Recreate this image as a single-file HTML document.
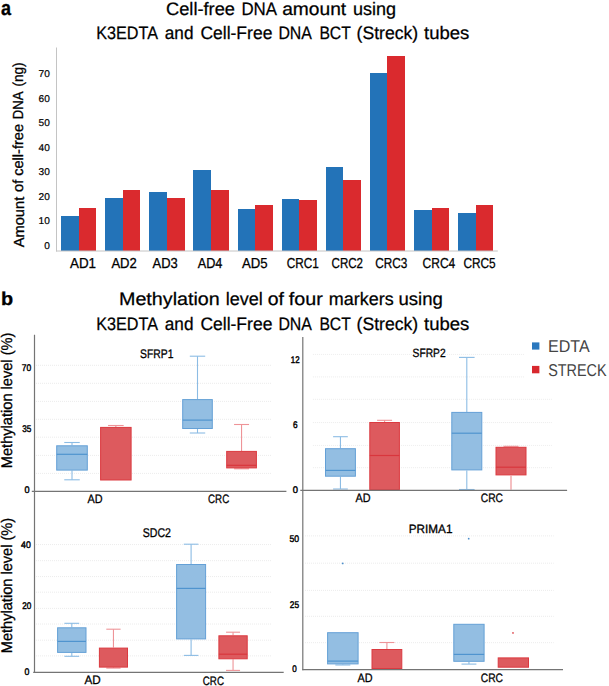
<!DOCTYPE html>
<html><head><meta charset="utf-8"><style>
html,body{margin:0;padding:0;background:#fff;width:609px;height:686px;overflow:hidden}
svg{display:block}
text{font-family:"Liberation Sans", sans-serif;text-rendering:geometricPrecision}
</style></head><body>
<svg width="609" height="686" viewBox="0 0 609 686">
<rect width="609" height="686" fill="#fff"/>
<rect x="61.10" y="215.90" width="17.60" height="35.10" fill="#2373B8" shape-rendering="crispEdges"/>
<rect x="78.70" y="207.80" width="17.60" height="43.20" fill="#DA2A2E" shape-rendering="crispEdges"/>
<rect x="105.20" y="197.80" width="17.60" height="53.20" fill="#2373B8" shape-rendering="crispEdges"/>
<rect x="122.80" y="189.70" width="17.60" height="61.30" fill="#DA2A2E" shape-rendering="crispEdges"/>
<rect x="149.30" y="192.10" width="17.60" height="58.90" fill="#2373B8" shape-rendering="crispEdges"/>
<rect x="166.90" y="198.00" width="17.60" height="53.00" fill="#DA2A2E" shape-rendering="crispEdges"/>
<rect x="193.40" y="169.70" width="17.60" height="81.30" fill="#2373B8" shape-rendering="crispEdges"/>
<rect x="211.00" y="190.10" width="17.60" height="60.90" fill="#DA2A2E" shape-rendering="crispEdges"/>
<rect x="237.50" y="208.60" width="17.60" height="42.40" fill="#2373B8" shape-rendering="crispEdges"/>
<rect x="255.10" y="204.70" width="17.60" height="46.30" fill="#DA2A2E" shape-rendering="crispEdges"/>
<rect x="281.60" y="199.30" width="17.60" height="51.70" fill="#2373B8" shape-rendering="crispEdges"/>
<rect x="299.20" y="200.00" width="17.60" height="51.00" fill="#DA2A2E" shape-rendering="crispEdges"/>
<rect x="325.70" y="166.50" width="17.60" height="84.50" fill="#2373B8" shape-rendering="crispEdges"/>
<rect x="343.30" y="180.30" width="17.60" height="70.70" fill="#DA2A2E" shape-rendering="crispEdges"/>
<rect x="369.80" y="72.80" width="17.60" height="178.20" fill="#2373B8" shape-rendering="crispEdges"/>
<rect x="387.40" y="55.80" width="17.60" height="195.20" fill="#DA2A2E" shape-rendering="crispEdges"/>
<rect x="413.90" y="209.90" width="17.60" height="41.10" fill="#2373B8" shape-rendering="crispEdges"/>
<rect x="431.50" y="207.60" width="17.60" height="43.40" fill="#DA2A2E" shape-rendering="crispEdges"/>
<rect x="458.00" y="212.80" width="17.60" height="38.20" fill="#2373B8" shape-rendering="crispEdges"/>
<rect x="475.60" y="204.70" width="17.60" height="46.30" fill="#DA2A2E" shape-rendering="crispEdges"/>
<line x1="56.50" y1="47.50" x2="56.50" y2="251.50" stroke="#c4c4c4" stroke-width="1" />
<line x1="56.00" y1="251.00" x2="497.80" y2="251.00" stroke="#c4c4c4" stroke-width="1" />
<line x1="36.00" y1="365.30" x2="272.00" y2="365.30" stroke="#ececec" stroke-width="1" stroke-dasharray="1 1"/>
<line x1="36.00" y1="383.30" x2="272.00" y2="383.30" stroke="#ececec" stroke-width="1" stroke-dasharray="1 1"/>
<line x1="36.00" y1="401.40" x2="272.00" y2="401.40" stroke="#ececec" stroke-width="1" stroke-dasharray="1 1"/>
<line x1="36.00" y1="419.30" x2="272.00" y2="419.30" stroke="#ececec" stroke-width="1" stroke-dasharray="1 1"/>
<line x1="36.00" y1="437.20" x2="272.00" y2="437.20" stroke="#ececec" stroke-width="1" stroke-dasharray="1 1"/>
<line x1="36.00" y1="455.40" x2="272.00" y2="455.40" stroke="#ececec" stroke-width="1" stroke-dasharray="1 1"/>
<line x1="36.00" y1="473.40" x2="272.00" y2="473.40" stroke="#ececec" stroke-width="1" stroke-dasharray="1 1"/>
<line x1="312.90" y1="354.40" x2="524.00" y2="354.40" stroke="#ececec" stroke-width="1" stroke-dasharray="1 1"/>
<line x1="312.90" y1="376.90" x2="524.00" y2="376.90" stroke="#ececec" stroke-width="1" stroke-dasharray="1 1"/>
<line x1="312.90" y1="399.30" x2="551.80" y2="399.30" stroke="#ececec" stroke-width="1" stroke-dasharray="1 1"/>
<line x1="312.90" y1="422.60" x2="551.80" y2="422.60" stroke="#ececec" stroke-width="1" stroke-dasharray="1 1"/>
<line x1="312.90" y1="445.40" x2="551.80" y2="445.40" stroke="#ececec" stroke-width="1" stroke-dasharray="1 1"/>
<line x1="312.90" y1="467.70" x2="551.80" y2="467.70" stroke="#ececec" stroke-width="1" stroke-dasharray="1 1"/>
<line x1="36.00" y1="544.60" x2="271.00" y2="544.60" stroke="#ececec" stroke-width="1" stroke-dasharray="1 1"/>
<line x1="36.00" y1="560.70" x2="271.00" y2="560.70" stroke="#ececec" stroke-width="1" stroke-dasharray="1 1"/>
<line x1="36.00" y1="576.60" x2="271.00" y2="576.60" stroke="#ececec" stroke-width="1" stroke-dasharray="1 1"/>
<line x1="36.00" y1="592.20" x2="271.00" y2="592.20" stroke="#ececec" stroke-width="1" stroke-dasharray="1 1"/>
<line x1="36.00" y1="608.40" x2="271.00" y2="608.40" stroke="#ececec" stroke-width="1" stroke-dasharray="1 1"/>
<line x1="36.00" y1="624.00" x2="271.00" y2="624.00" stroke="#ececec" stroke-width="1" stroke-dasharray="1 1"/>
<line x1="36.00" y1="640.20" x2="271.00" y2="640.20" stroke="#ececec" stroke-width="1" stroke-dasharray="1 1"/>
<line x1="36.00" y1="655.90" x2="271.00" y2="655.90" stroke="#ececec" stroke-width="1" stroke-dasharray="1 1"/>
<line x1="305.00" y1="535.90" x2="553.70" y2="535.90" stroke="#ececec" stroke-width="1" stroke-dasharray="1 1"/>
<line x1="305.00" y1="563.20" x2="553.70" y2="563.20" stroke="#ececec" stroke-width="1" stroke-dasharray="1 1"/>
<line x1="305.00" y1="590.40" x2="553.70" y2="590.40" stroke="#ececec" stroke-width="1" stroke-dasharray="1 1"/>
<line x1="305.00" y1="616.30" x2="553.70" y2="616.30" stroke="#ececec" stroke-width="1" stroke-dasharray="1 1"/>
<line x1="305.00" y1="642.70" x2="553.70" y2="642.70" stroke="#ececec" stroke-width="1" stroke-dasharray="1 1"/>
<line x1="72.00" y1="442.50" x2="72.00" y2="445.30" stroke="#8CBCE4" stroke-width="1.1" />
<line x1="64.25" y1="442.50" x2="79.75" y2="442.50" stroke="#8CBCE4" stroke-width="1.1" />
<line x1="72.00" y1="470.60" x2="72.00" y2="479.80" stroke="#8CBCE4" stroke-width="1.1" />
<line x1="64.25" y1="479.80" x2="79.75" y2="479.80" stroke="#8CBCE4" stroke-width="1.1" />
<rect x="56.70" y="445.80" width="30.60" height="24.30" fill="#93BEE2" stroke="#64A0D6" stroke-width="1"/>
<line x1="56.70" y1="454.30" x2="87.30" y2="454.30" stroke="#4F94CF" stroke-width="1.2" />
<line x1="115.85" y1="425.50" x2="115.85" y2="426.90" stroke="#EE9498" stroke-width="1.1" />
<line x1="108.05" y1="425.50" x2="123.65" y2="425.50" stroke="#EE9498" stroke-width="1.1" />
<rect x="100.60" y="427.40" width="30.50" height="52.60" fill="#DD5A5E" stroke="#DB3A40" stroke-width="1"/>
<line x1="197.50" y1="356.20" x2="197.50" y2="399.10" stroke="#8CBCE4" stroke-width="1.1" />
<line x1="189.80" y1="356.20" x2="205.20" y2="356.20" stroke="#8CBCE4" stroke-width="1.1" />
<line x1="197.50" y1="429.00" x2="197.50" y2="433.00" stroke="#8CBCE4" stroke-width="1.1" />
<line x1="189.80" y1="433.00" x2="205.20" y2="433.00" stroke="#8CBCE4" stroke-width="1.1" />
<rect x="182.70" y="399.60" width="29.60" height="28.90" fill="#93BEE2" stroke="#64A0D6" stroke-width="1"/>
<line x1="182.70" y1="420.10" x2="212.30" y2="420.10" stroke="#4F94CF" stroke-width="1.2" />
<line x1="241.55" y1="424.50" x2="241.55" y2="450.90" stroke="#EE9498" stroke-width="1.1" />
<line x1="234.05" y1="424.50" x2="249.05" y2="424.50" stroke="#EE9498" stroke-width="1.1" />
<line x1="241.55" y1="468.40" x2="241.55" y2="468.80" stroke="#EE9498" stroke-width="1.1" />
<line x1="234.05" y1="468.80" x2="249.05" y2="468.80" stroke="#EE9498" stroke-width="1.1" />
<rect x="226.70" y="451.40" width="29.70" height="16.50" fill="#DD5A5E" stroke="#DB3A40" stroke-width="1"/>
<line x1="226.70" y1="465.30" x2="256.40" y2="465.30" stroke="#D9363D" stroke-width="1.2" />
<line x1="340.45" y1="436.70" x2="340.45" y2="448.20" stroke="#8CBCE4" stroke-width="1.1" />
<line x1="333.10" y1="436.70" x2="347.80" y2="436.70" stroke="#8CBCE4" stroke-width="1.1" />
<line x1="340.45" y1="476.70" x2="340.45" y2="489.00" stroke="#8CBCE4" stroke-width="1.1" />
<line x1="333.10" y1="489.00" x2="347.80" y2="489.00" stroke="#8CBCE4" stroke-width="1.1" />
<rect x="325.50" y="448.70" width="29.90" height="27.50" fill="#93BEE2" stroke="#64A0D6" stroke-width="1"/>
<line x1="325.50" y1="470.40" x2="355.40" y2="470.40" stroke="#4F94CF" stroke-width="1.2" />
<line x1="384.60" y1="420.30" x2="384.60" y2="422.00" stroke="#EE9498" stroke-width="1.1" />
<line x1="377.10" y1="420.30" x2="392.10" y2="420.30" stroke="#EE9498" stroke-width="1.1" />
<rect x="369.80" y="422.50" width="29.60" height="67.10" fill="#DD5A5E" stroke="#DB3A40" stroke-width="1"/>
<line x1="369.80" y1="455.50" x2="399.40" y2="455.50" stroke="#D9363D" stroke-width="1.2" />
<line x1="466.80" y1="357.40" x2="466.80" y2="411.90" stroke="#8CBCE4" stroke-width="1.1" />
<line x1="459.00" y1="357.40" x2="474.60" y2="357.40" stroke="#8CBCE4" stroke-width="1.1" />
<line x1="466.80" y1="470.40" x2="466.80" y2="489.50" stroke="#8CBCE4" stroke-width="1.1" />
<line x1="459.00" y1="489.50" x2="474.60" y2="489.50" stroke="#8CBCE4" stroke-width="1.1" />
<rect x="451.80" y="412.40" width="30.00" height="57.50" fill="#93BEE2" stroke="#64A0D6" stroke-width="1"/>
<line x1="451.80" y1="433.20" x2="481.80" y2="433.20" stroke="#4F94CF" stroke-width="1.2" />
<line x1="511.00" y1="446.30" x2="511.00" y2="446.80" stroke="#EE9498" stroke-width="1.1" />
<line x1="503.50" y1="446.30" x2="518.50" y2="446.30" stroke="#EE9498" stroke-width="1.1" />
<rect x="496.00" y="447.30" width="30.00" height="27.60" fill="#DD5A5E" stroke="#DB3A40" stroke-width="1"/>
<line x1="496.00" y1="467.20" x2="526.00" y2="467.20" stroke="#D9363D" stroke-width="1.2" />
<line x1="511.00" y1="475.40" x2="511.00" y2="489.80" stroke="#EE9498" stroke-width="1.2" />
<line x1="71.80" y1="623.30" x2="71.80" y2="627.30" stroke="#8CBCE4" stroke-width="1.1" />
<line x1="64.40" y1="623.30" x2="79.20" y2="623.30" stroke="#8CBCE4" stroke-width="1.1" />
<line x1="71.80" y1="652.90" x2="71.80" y2="656.30" stroke="#8CBCE4" stroke-width="1.1" />
<line x1="64.40" y1="656.30" x2="79.20" y2="656.30" stroke="#8CBCE4" stroke-width="1.1" />
<rect x="57.60" y="627.80" width="28.40" height="24.60" fill="#93BEE2" stroke="#64A0D6" stroke-width="1"/>
<line x1="57.60" y1="641.40" x2="86.00" y2="641.40" stroke="#4F94CF" stroke-width="1.2" />
<line x1="113.45" y1="629.20" x2="113.45" y2="647.60" stroke="#EE9498" stroke-width="1.1" />
<line x1="106.30" y1="629.20" x2="120.60" y2="629.20" stroke="#EE9498" stroke-width="1.1" />
<line x1="113.45" y1="667.60" x2="113.45" y2="668.10" stroke="#EE9498" stroke-width="1.1" />
<line x1="106.30" y1="668.10" x2="120.60" y2="668.10" stroke="#EE9498" stroke-width="1.1" />
<rect x="99.40" y="648.10" width="28.10" height="19.00" fill="#DD5A5E" stroke="#DB3A40" stroke-width="1"/>
<line x1="191.10" y1="544.20" x2="191.10" y2="564.00" stroke="#8CBCE4" stroke-width="1.1" />
<line x1="183.80" y1="544.20" x2="198.40" y2="544.20" stroke="#8CBCE4" stroke-width="1.1" />
<line x1="191.10" y1="639.40" x2="191.10" y2="655.40" stroke="#8CBCE4" stroke-width="1.1" />
<line x1="183.80" y1="655.40" x2="198.40" y2="655.40" stroke="#8CBCE4" stroke-width="1.1" />
<rect x="176.60" y="564.50" width="29.00" height="74.40" fill="#93BEE2" stroke="#64A0D6" stroke-width="1"/>
<line x1="176.60" y1="588.40" x2="205.60" y2="588.40" stroke="#4F94CF" stroke-width="1.2" />
<line x1="233.05" y1="632.20" x2="233.05" y2="635.30" stroke="#EE9498" stroke-width="1.1" />
<line x1="226.05" y1="632.20" x2="240.05" y2="632.20" stroke="#EE9498" stroke-width="1.1" />
<line x1="233.05" y1="659.30" x2="233.05" y2="670.40" stroke="#EE9498" stroke-width="1.1" />
<line x1="226.05" y1="670.40" x2="240.05" y2="670.40" stroke="#EE9498" stroke-width="1.1" />
<rect x="218.90" y="635.80" width="28.30" height="23.00" fill="#DD5A5E" stroke="#DB3A40" stroke-width="1"/>
<line x1="218.90" y1="654.20" x2="247.20" y2="654.20" stroke="#D9363D" stroke-width="1.2" />
<line x1="342.85" y1="664.40" x2="342.85" y2="665.00" stroke="#8CBCE4" stroke-width="1.1" />
<line x1="335.35" y1="665.00" x2="350.35" y2="665.00" stroke="#8CBCE4" stroke-width="1.1" />
<rect x="327.60" y="632.70" width="30.50" height="31.20" fill="#93BEE2" stroke="#64A0D6" stroke-width="1"/>
<line x1="327.60" y1="661.10" x2="358.10" y2="661.10" stroke="#4F94CF" stroke-width="1.2" />
<line x1="386.90" y1="642.50" x2="386.90" y2="649.00" stroke="#EE9498" stroke-width="1.1" />
<line x1="379.40" y1="642.50" x2="394.40" y2="642.50" stroke="#EE9498" stroke-width="1.1" />
<rect x="372.00" y="649.50" width="29.80" height="19.00" fill="#DD5A5E" stroke="#DB3A40" stroke-width="1"/>
<line x1="468.95" y1="661.80" x2="468.95" y2="664.10" stroke="#8CBCE4" stroke-width="1.1" />
<line x1="461.50" y1="664.10" x2="476.40" y2="664.10" stroke="#8CBCE4" stroke-width="1.1" />
<rect x="453.80" y="624.30" width="30.30" height="37.00" fill="#93BEE2" stroke="#64A0D6" stroke-width="1"/>
<line x1="453.80" y1="654.40" x2="484.10" y2="654.40" stroke="#4F94CF" stroke-width="1.2" />
<rect x="498.20" y="657.90" width="30.30" height="9.30" fill="#DD5A5E" stroke="#DB3A40" stroke-width="1"/>
<circle cx="342.7" cy="563.4" r="0.9" fill="#4d8fcc"/>
<circle cx="468.7" cy="538.7" r="0.9" fill="#4d8fcc"/>
<circle cx="513.0" cy="632.9" r="0.9" fill="#e05055"/>
<line x1="34.50" y1="334.70" x2="34.50" y2="672.80" stroke="#747474" stroke-width="1.2" />
<line x1="302.80" y1="336.90" x2="302.80" y2="670.20" stroke="#747474" stroke-width="1.2" />
<line x1="31.80" y1="491.30" x2="286.40" y2="491.30" stroke="#747474" stroke-width="1.3" />
<line x1="300.30" y1="490.40" x2="567.10" y2="490.40" stroke="#747474" stroke-width="1.3" />
<line x1="33.20" y1="672.30" x2="283.70" y2="672.30" stroke="#747474" stroke-width="1.3" />
<line x1="302.30" y1="669.70" x2="563.00" y2="669.70" stroke="#747474" stroke-width="1.3" />
<rect x="532.00" y="342.40" width="7.40" height="7.20" fill="#2A78BE" />
<rect x="532.00" y="365.90" width="7.40" height="7.40" fill="#D8282E" />
<g>
<text x="0.96" y="14.60" font-size="20.50" font-weight="bold" textLength="10.03" lengthAdjust="spacingAndGlyphs" stroke="#000" stroke-width="0.3">a</text>
<text x="0.94" y="305.20" font-size="18.50" font-weight="bold" textLength="12.14" lengthAdjust="spacingAndGlyphs" stroke="#000" stroke-width="0.3">b</text>
<text x="165.98" y="14.70" font-size="18.00" textLength="69.04" lengthAdjust="spacingAndGlyphs" stroke="#000" stroke-width="0.25">Cell-free</text>
<text x="241.38" y="14.70" font-size="18.00" textLength="35.62" lengthAdjust="spacingAndGlyphs" stroke="#000" stroke-width="0.25">DNA</text>
<text x="282.19" y="14.70" font-size="18.00" textLength="64.01" lengthAdjust="spacingAndGlyphs" stroke="#000" stroke-width="0.25">amount</text>
<text x="352.98" y="14.70" font-size="18.00" textLength="43.06" lengthAdjust="spacingAndGlyphs" stroke="#000" stroke-width="0.25">using</text>
<text x="96.19" y="38.70" font-size="18.00" textLength="61.80" lengthAdjust="spacingAndGlyphs" stroke="#000" stroke-width="0.25">K3EDTA</text>
<text x="164.80" y="38.70" font-size="18.00" textLength="28.65" lengthAdjust="spacingAndGlyphs" stroke="#000" stroke-width="0.25">and</text>
<text x="200.39" y="38.70" font-size="18.00" textLength="72.01" lengthAdjust="spacingAndGlyphs" stroke="#000" stroke-width="0.25">Cell-Free</text>
<text x="278.39" y="38.70" font-size="18.00" textLength="33.61" lengthAdjust="spacingAndGlyphs" stroke="#000" stroke-width="0.25">DNA</text>
<text x="319.39" y="38.70" font-size="18.00" textLength="31.43" lengthAdjust="spacingAndGlyphs" stroke="#000" stroke-width="0.25">BCT</text>
<text x="356.58" y="38.70" font-size="18.00" textLength="61.63" lengthAdjust="spacingAndGlyphs" stroke="#000" stroke-width="0.25">(Streck)</text>
<text x="424.00" y="38.70" font-size="18.00" textLength="45.40" lengthAdjust="spacingAndGlyphs" stroke="#000" stroke-width="0.25">tubes</text>
<text x="118.96" y="305.00" font-size="18.00" textLength="100.87" lengthAdjust="spacingAndGlyphs" stroke="#000" stroke-width="0.25">Methylation</text>
<text x="225.77" y="305.00" font-size="18.00" textLength="37.09" lengthAdjust="spacingAndGlyphs" stroke="#000" stroke-width="0.25">level</text>
<text x="267.80" y="305.00" font-size="18.00" textLength="16.22" lengthAdjust="spacingAndGlyphs" stroke="#000" stroke-width="0.25">of</text>
<text x="288.78" y="305.00" font-size="18.00" textLength="34.03" lengthAdjust="spacingAndGlyphs" stroke="#000" stroke-width="0.25">four</text>
<text x="328.77" y="305.00" font-size="18.00" textLength="64.85" lengthAdjust="spacingAndGlyphs" stroke="#000" stroke-width="0.25">markers</text>
<text x="398.53" y="305.00" font-size="18.00" textLength="44.32" lengthAdjust="spacingAndGlyphs" stroke="#000" stroke-width="0.25">using</text>
<text x="96.19" y="329.50" font-size="18.00" textLength="61.80" lengthAdjust="spacingAndGlyphs" stroke="#000" stroke-width="0.25">K3EDTA</text>
<text x="164.80" y="329.50" font-size="18.00" textLength="28.65" lengthAdjust="spacingAndGlyphs" stroke="#000" stroke-width="0.25">and</text>
<text x="200.39" y="329.50" font-size="18.00" textLength="72.01" lengthAdjust="spacingAndGlyphs" stroke="#000" stroke-width="0.25">Cell-Free</text>
<text x="278.39" y="329.50" font-size="18.00" textLength="33.61" lengthAdjust="spacingAndGlyphs" stroke="#000" stroke-width="0.25">DNA</text>
<text x="319.39" y="329.50" font-size="18.00" textLength="31.43" lengthAdjust="spacingAndGlyphs" stroke="#000" stroke-width="0.25">BCT</text>
<text x="356.58" y="329.50" font-size="18.00" textLength="61.63" lengthAdjust="spacingAndGlyphs" stroke="#000" stroke-width="0.25">(Streck)</text>
<text x="424.00" y="329.50" font-size="18.00" textLength="45.40" lengthAdjust="spacingAndGlyphs" stroke="#000" stroke-width="0.25">tubes</text>
<text transform="translate(23.70,247.20) rotate(-90)" font-size="14.60" textLength="50.41" lengthAdjust="spacingAndGlyphs" stroke="#000" stroke-width="0.3">Amount</text>
<text transform="translate(23.40,192.00) rotate(-90)" font-size="14.60" textLength="12.22" lengthAdjust="spacingAndGlyphs" stroke="#000" stroke-width="0.3">of</text>
<text transform="translate(23.11,175.81) rotate(-90)" font-size="14.60" textLength="51.82" lengthAdjust="spacingAndGlyphs" stroke="#000" stroke-width="0.3">cell-free</text>
<text transform="translate(22.75,119.19) rotate(-90)" font-size="14.60" textLength="27.61" lengthAdjust="spacingAndGlyphs" stroke="#000" stroke-width="0.3">DNA</text>
<text transform="translate(22.50,86.40) rotate(-90)" font-size="14.60" textLength="24.02" lengthAdjust="spacingAndGlyphs" stroke="#000" stroke-width="0.3">(ng)</text>
<text x="44.34" y="248.70" font-size="9.90" textLength="5.64" lengthAdjust="spacingAndGlyphs" stroke="#000" stroke-width="0.2">0</text>
<text x="38.59" y="224.20" font-size="9.90" textLength="11.24" lengthAdjust="spacingAndGlyphs" stroke="#000" stroke-width="0.2">10</text>
<text x="38.59" y="199.70" font-size="9.90" textLength="11.24" lengthAdjust="spacingAndGlyphs" stroke="#000" stroke-width="0.2">20</text>
<text x="38.59" y="175.20" font-size="9.90" textLength="11.24" lengthAdjust="spacingAndGlyphs" stroke="#000" stroke-width="0.2">30</text>
<text x="38.59" y="150.70" font-size="9.90" textLength="11.24" lengthAdjust="spacingAndGlyphs" stroke="#000" stroke-width="0.2">40</text>
<text x="38.59" y="126.20" font-size="9.90" textLength="11.24" lengthAdjust="spacingAndGlyphs" stroke="#000" stroke-width="0.2">50</text>
<text x="38.59" y="101.70" font-size="9.90" textLength="11.24" lengthAdjust="spacingAndGlyphs" stroke="#000" stroke-width="0.2">60</text>
<text x="38.59" y="77.20" font-size="9.90" textLength="11.24" lengthAdjust="spacingAndGlyphs" stroke="#000" stroke-width="0.2">70</text>
<text x="69.99" y="268.30" font-size="14.50" textLength="26.01" lengthAdjust="spacingAndGlyphs" stroke="#000" stroke-width="0.3">AD1</text>
<text x="111.39" y="268.30" font-size="14.50" textLength="25.41" lengthAdjust="spacingAndGlyphs" stroke="#000" stroke-width="0.3">AD2</text>
<text x="152.60" y="268.30" font-size="14.50" textLength="25.21" lengthAdjust="spacingAndGlyphs" stroke="#000" stroke-width="0.3">AD3</text>
<text x="197.77" y="268.30" font-size="14.50" textLength="24.65" lengthAdjust="spacingAndGlyphs" stroke="#000" stroke-width="0.3">AD4</text>
<text x="242.00" y="268.30" font-size="14.50" textLength="25.61" lengthAdjust="spacingAndGlyphs" stroke="#000" stroke-width="0.3">AD5</text>
<text x="286.78" y="268.30" font-size="14.50" textLength="32.04" lengthAdjust="spacingAndGlyphs" stroke="#000" stroke-width="0.3">CRC1</text>
<text x="331.59" y="268.30" font-size="14.50" textLength="31.41" lengthAdjust="spacingAndGlyphs" stroke="#000" stroke-width="0.3">CRC2</text>
<text x="375.19" y="268.30" font-size="14.50" textLength="32.03" lengthAdjust="spacingAndGlyphs" stroke="#000" stroke-width="0.3">CRC3</text>
<text x="422.60" y="268.30" font-size="14.50" textLength="32.61" lengthAdjust="spacingAndGlyphs" stroke="#000" stroke-width="0.3">CRC4</text>
<text x="463.38" y="268.30" font-size="14.50" textLength="32.25" lengthAdjust="spacingAndGlyphs" stroke="#000" stroke-width="0.3">CRC5</text>
<text x="547.97" y="352.00" font-size="17.20" fill="#444" textLength="41.65" lengthAdjust="spacingAndGlyphs">EDTA</text>
<text x="548.19" y="375.80" font-size="17.20" fill="#444" textLength="58.41" lengthAdjust="spacingAndGlyphs">STRECK</text>
<text x="140.00" y="357.50" font-size="12.40" textLength="33.40" lengthAdjust="spacingAndGlyphs" stroke="#000" stroke-width="0.3">SFRP1</text>
<text x="412.59" y="357.40" font-size="12.00" textLength="33.01" lengthAdjust="spacingAndGlyphs" stroke="#000" stroke-width="0.3">SFRP2</text>
<text x="142.79" y="536.90" font-size="12.60" textLength="28.21" lengthAdjust="spacingAndGlyphs" stroke="#000" stroke-width="0.3">SDC2</text>
<text x="408.79" y="533.10" font-size="12.00" textLength="43.62" lengthAdjust="spacingAndGlyphs" stroke="#000" stroke-width="0.3">PRIMA1</text>
<text x="87.58" y="503.30" font-size="12.20" textLength="15.03" lengthAdjust="spacingAndGlyphs" stroke="#000" stroke-width="0.3">AD</text>
<text x="208.00" y="502.80" font-size="12.20" textLength="21.22" lengthAdjust="spacingAndGlyphs" stroke="#000" stroke-width="0.3">CRC</text>
<text x="355.58" y="501.70" font-size="12.20" textLength="15.03" lengthAdjust="spacingAndGlyphs" stroke="#000" stroke-width="0.3">AD</text>
<text x="480.75" y="501.90" font-size="12.20" textLength="22.28" lengthAdjust="spacingAndGlyphs" stroke="#000" stroke-width="0.3">CRC</text>
<text x="84.59" y="683.50" font-size="12.20" textLength="16.23" lengthAdjust="spacingAndGlyphs" stroke="#000" stroke-width="0.3">AD</text>
<text x="202.78" y="684.50" font-size="12.20" textLength="21.22" lengthAdjust="spacingAndGlyphs" stroke="#000" stroke-width="0.3">CRC</text>
<text x="357.58" y="682.40" font-size="12.20" textLength="15.03" lengthAdjust="spacingAndGlyphs" stroke="#000" stroke-width="0.3">AD</text>
<text x="480.75" y="682.40" font-size="12.20" textLength="22.28" lengthAdjust="spacingAndGlyphs" stroke="#000" stroke-width="0.3">CRC</text>
<text transform="translate(12.20,468.20) rotate(-90)" font-size="15.40" textLength="135.60" lengthAdjust="spacingAndGlyphs" stroke="#000" stroke-width="0.3">Methylation level (%)</text>
<text transform="translate(12.20,653.21) rotate(-90)" font-size="15.40" textLength="135.41" lengthAdjust="spacingAndGlyphs" stroke="#000" stroke-width="0.3">Methylation level (%)</text>
<text x="21.77" y="371.00" font-size="9.60" textLength="9.44" lengthAdjust="spacingAndGlyphs" stroke="#000" stroke-width="0.45">70</text>
<text x="22.15" y="431.90" font-size="9.60" textLength="9.09" lengthAdjust="spacingAndGlyphs" stroke="#000" stroke-width="0.45">35</text>
<text x="24.40" y="492.60" font-size="9.60" textLength="5.08" lengthAdjust="spacingAndGlyphs" stroke="#000" stroke-width="0.45">0</text>
<text x="290.75" y="362.50" font-size="9.60" textLength="8.76" lengthAdjust="spacingAndGlyphs" stroke="#000" stroke-width="0.45">12</text>
<text x="293.00" y="427.60" font-size="9.60" textLength="4.61" lengthAdjust="spacingAndGlyphs" stroke="#000" stroke-width="0.45">6</text>
<text x="292.74" y="492.70" font-size="9.60" textLength="5.21" lengthAdjust="spacingAndGlyphs" stroke="#000" stroke-width="0.45">0</text>
<text x="21.12" y="548.10" font-size="9.60" textLength="9.70" lengthAdjust="spacingAndGlyphs" stroke="#000" stroke-width="0.45">40</text>
<text x="22.20" y="608.90" font-size="9.60" textLength="9.05" lengthAdjust="spacingAndGlyphs" stroke="#000" stroke-width="0.45">20</text>
<text x="24.39" y="675.40" font-size="9.60" textLength="4.87" lengthAdjust="spacingAndGlyphs" stroke="#000" stroke-width="0.45">0</text>
<text x="289.40" y="541.70" font-size="9.60" textLength="9.61" lengthAdjust="spacingAndGlyphs" stroke="#000" stroke-width="0.45">50</text>
<text x="289.80" y="607.50" font-size="9.60" textLength="9.22" lengthAdjust="spacingAndGlyphs" stroke="#000" stroke-width="0.45">25</text>
<text x="292.30" y="672.00" font-size="9.60" textLength="4.48" lengthAdjust="spacingAndGlyphs" stroke="#000" stroke-width="0.45">0</text>
</g>
</svg>
</body></html>
